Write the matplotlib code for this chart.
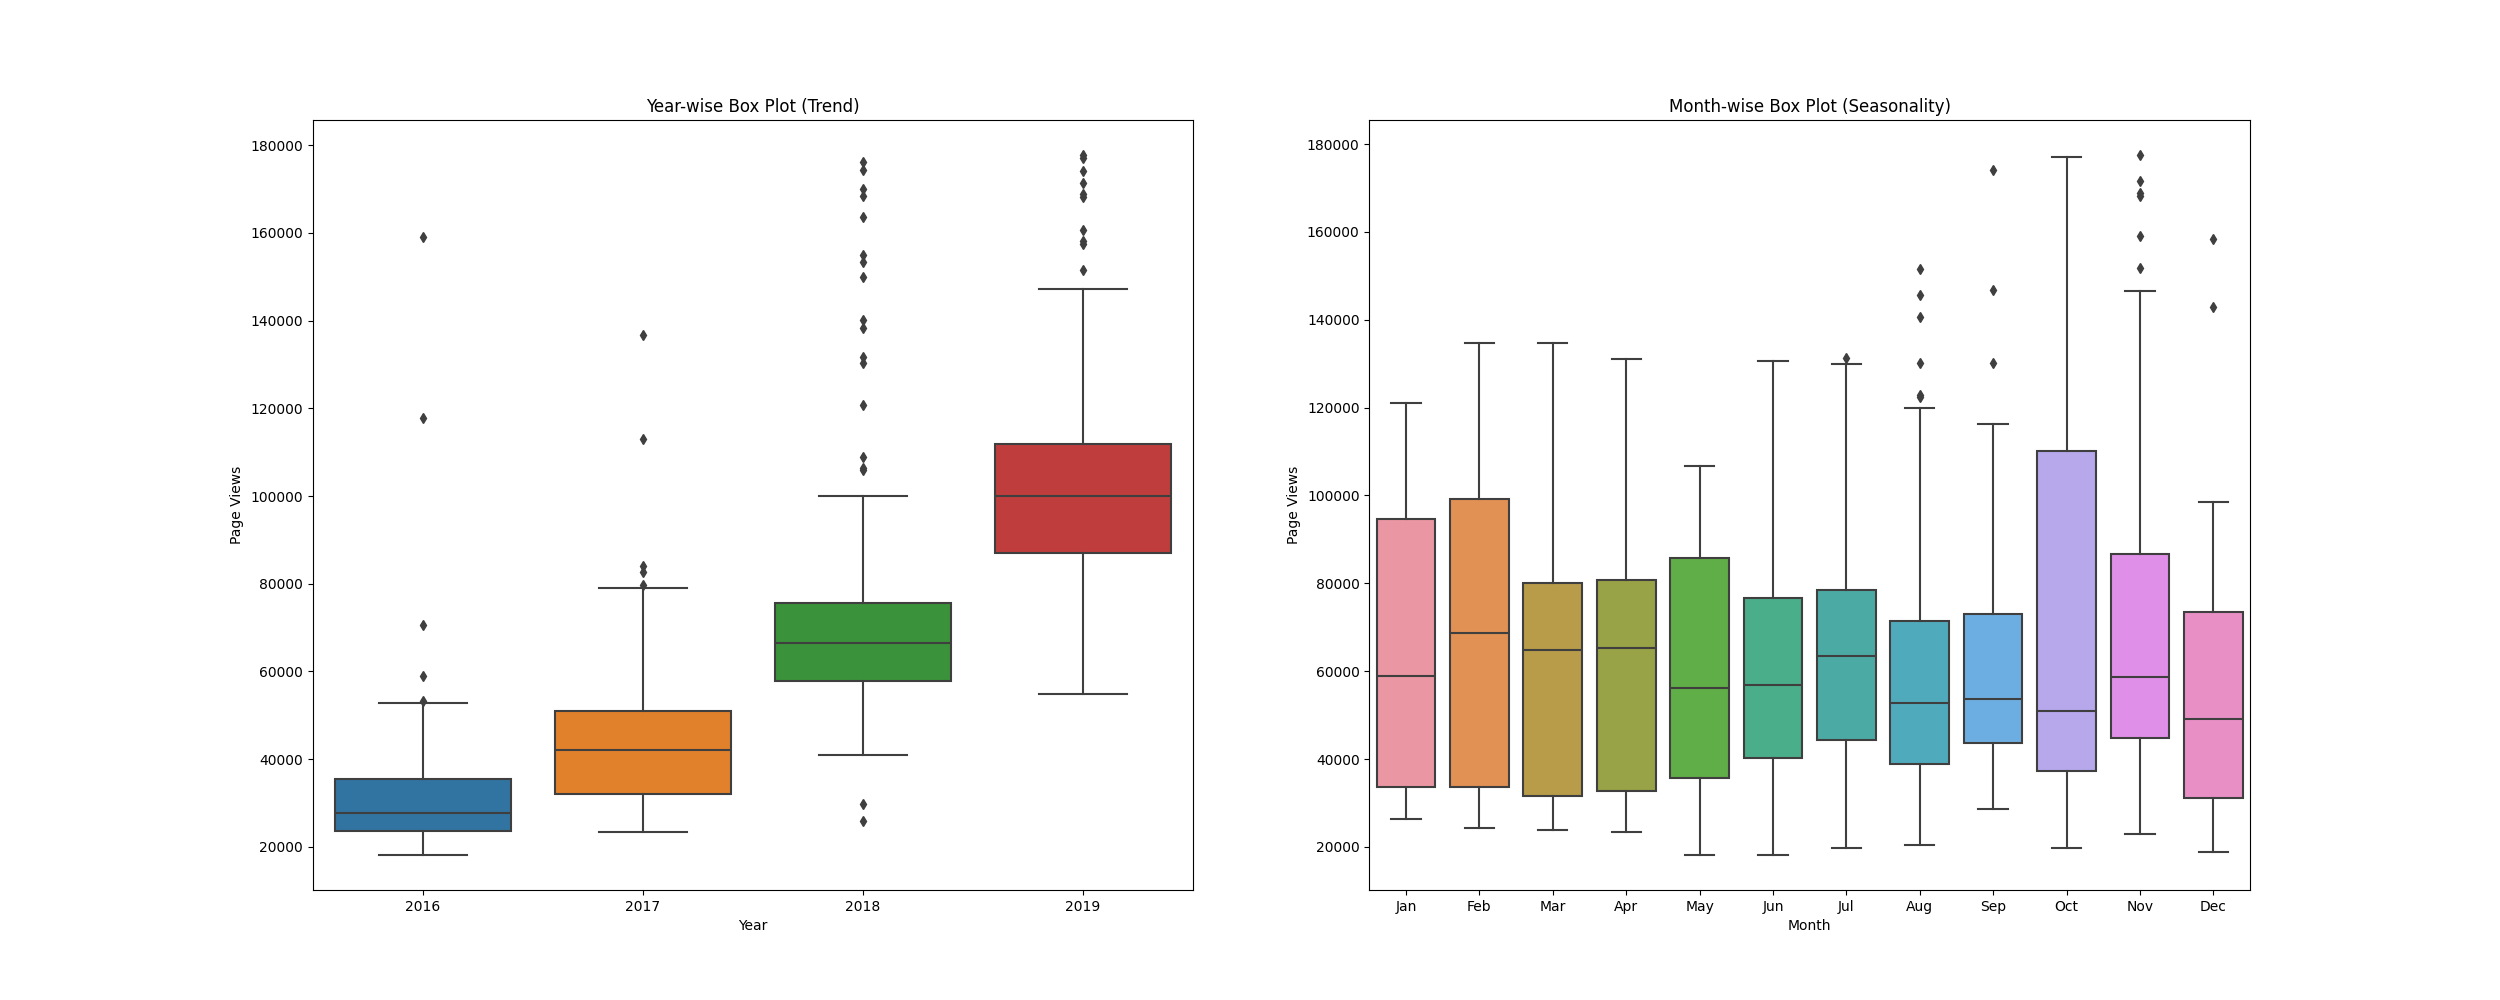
import matplotlib
matplotlib.use("Agg")
import matplotlib.pyplot as plt
import seaborn as sns

# yearly box stats
years = ["2016", "2017", "2018", "2019"]
year_q1 = [23600, 32100, 57800, 87100]
year_med = [27800, 42000, 66450, 100060]
year_q3 = [35400, 50900, 75700, 111800]
year_lo = [18150, 23340, 40880, 54960]
year_hi = [52740, 78930, 100060, 147130]
year_fliers = [
    [53240, 58920, 70650, 117850, 159100],
    [79800, 82700, 84000, 113030, 136760],
    [25800, 29880, 105870, 106360, 108830, 120820, 130450, 131810, 138240,
     140210, 149850, 153430, 154920, 163570, 168510, 170000, 174440, 176170],
    [151580, 157510, 158250, 160720, 168130, 168870, 171340, 174060,
     177030, 177770],
]

# monthly box stats
months = ["Jan", "Feb", "Mar", "Apr", "May", "Jun",
          "Jul", "Aug", "Sep", "Oct", "Nov", "Dec"]
month_q1 = [33710, 33710, 31610, 32730, 35570, 40260,
            44340, 38900, 43600, 37300, 44710, 31120]
month_med = [58920, 68800, 64850, 65340, 56200, 56940,
             63490, 52860, 53610, 50890, 58670, 49160]
month_q3 = [94630, 99200, 80170, 80790, 85730, 76710,
            78440, 71400, 73130, 110070, 86720, 73370]
month_lo = [26420, 24320, 23830, 23340, 18150, 18150,
            19630, 20370, 28650, 19630, 22840, 18890]
month_hi = [121060, 134780, 134780, 131070, 106730, 130700,
            129840, 119950, 116250, 177030, 146640, 98460]
month_fliers = [
    [], [], [], [], [], [],
    [131320],
    [122420, 122790, 130080, 140710, 145650, 151580],
    [130080, 146760, 174060],
    [],
    [151700, 159110, 168130, 168870, 171590, 177520],
    [142810, 158380],
]

gray = "#3f3f3f"


def draw_boxes(ax, labels, q1, med, q3, lo, hi, fliers, colors):
    stats = []
    for i in range(len(labels)):
        stats.append({"q1": q1[i], "med": med[i], "q3": q3[i],
                      "whislo": lo[i], "whishi": hi[i],
                      "fliers": fliers[i], "label": labels[i]})
    pos = list(range(len(labels)))
    bp = ax.bxp(stats, positions=pos, widths=0.8, capwidths=0.4,
                patch_artist=True, manage_ticks=False,
                boxprops=dict(edgecolor=gray, linewidth=1.5),
                medianprops=dict(color=gray, linewidth=1.5),
                whiskerprops=dict(color=gray, linewidth=1.5),
                capprops=dict(color=gray, linewidth=1.5),
                flierprops=dict(marker="d", markerfacecolor=gray,
                                markeredgecolor=gray, markersize=5,
                                linestyle="none"))
    for patch, c in zip(bp["boxes"], colors):
        patch.set_facecolor(c)
    ax.set_xticks(pos)
    ax.set_xticklabels(labels)
    ax.set_xlim(-0.5, len(labels) - 0.5)


year_colors = [sns.desaturate(c, 0.75) for c in sns.color_palette("tab10", 4)]
month_colors = [sns.desaturate(c, 0.75) for c in sns.husl_palette(12, l=.7)]

fig, (ax1, ax2) = plt.subplots(1, 2, figsize=(25, 10))

draw_boxes(ax1, years, year_q1, year_med, year_q3, year_lo, year_hi,
           year_fliers, year_colors)
ax1.set_title("Year-wise Box Plot (Trend)")
ax1.set_xlabel("Year")
ax1.set_ylabel("Page Views")

draw_boxes(ax2, months, month_q1, month_med, month_q3, month_lo, month_hi,
           month_fliers, month_colors)
ax2.set_title("Month-wise Box Plot (Seasonality)")
ax2.set_xlabel("Month")
ax2.set_ylabel("Page Views")

fig.savefig("out.png", dpi=100)
